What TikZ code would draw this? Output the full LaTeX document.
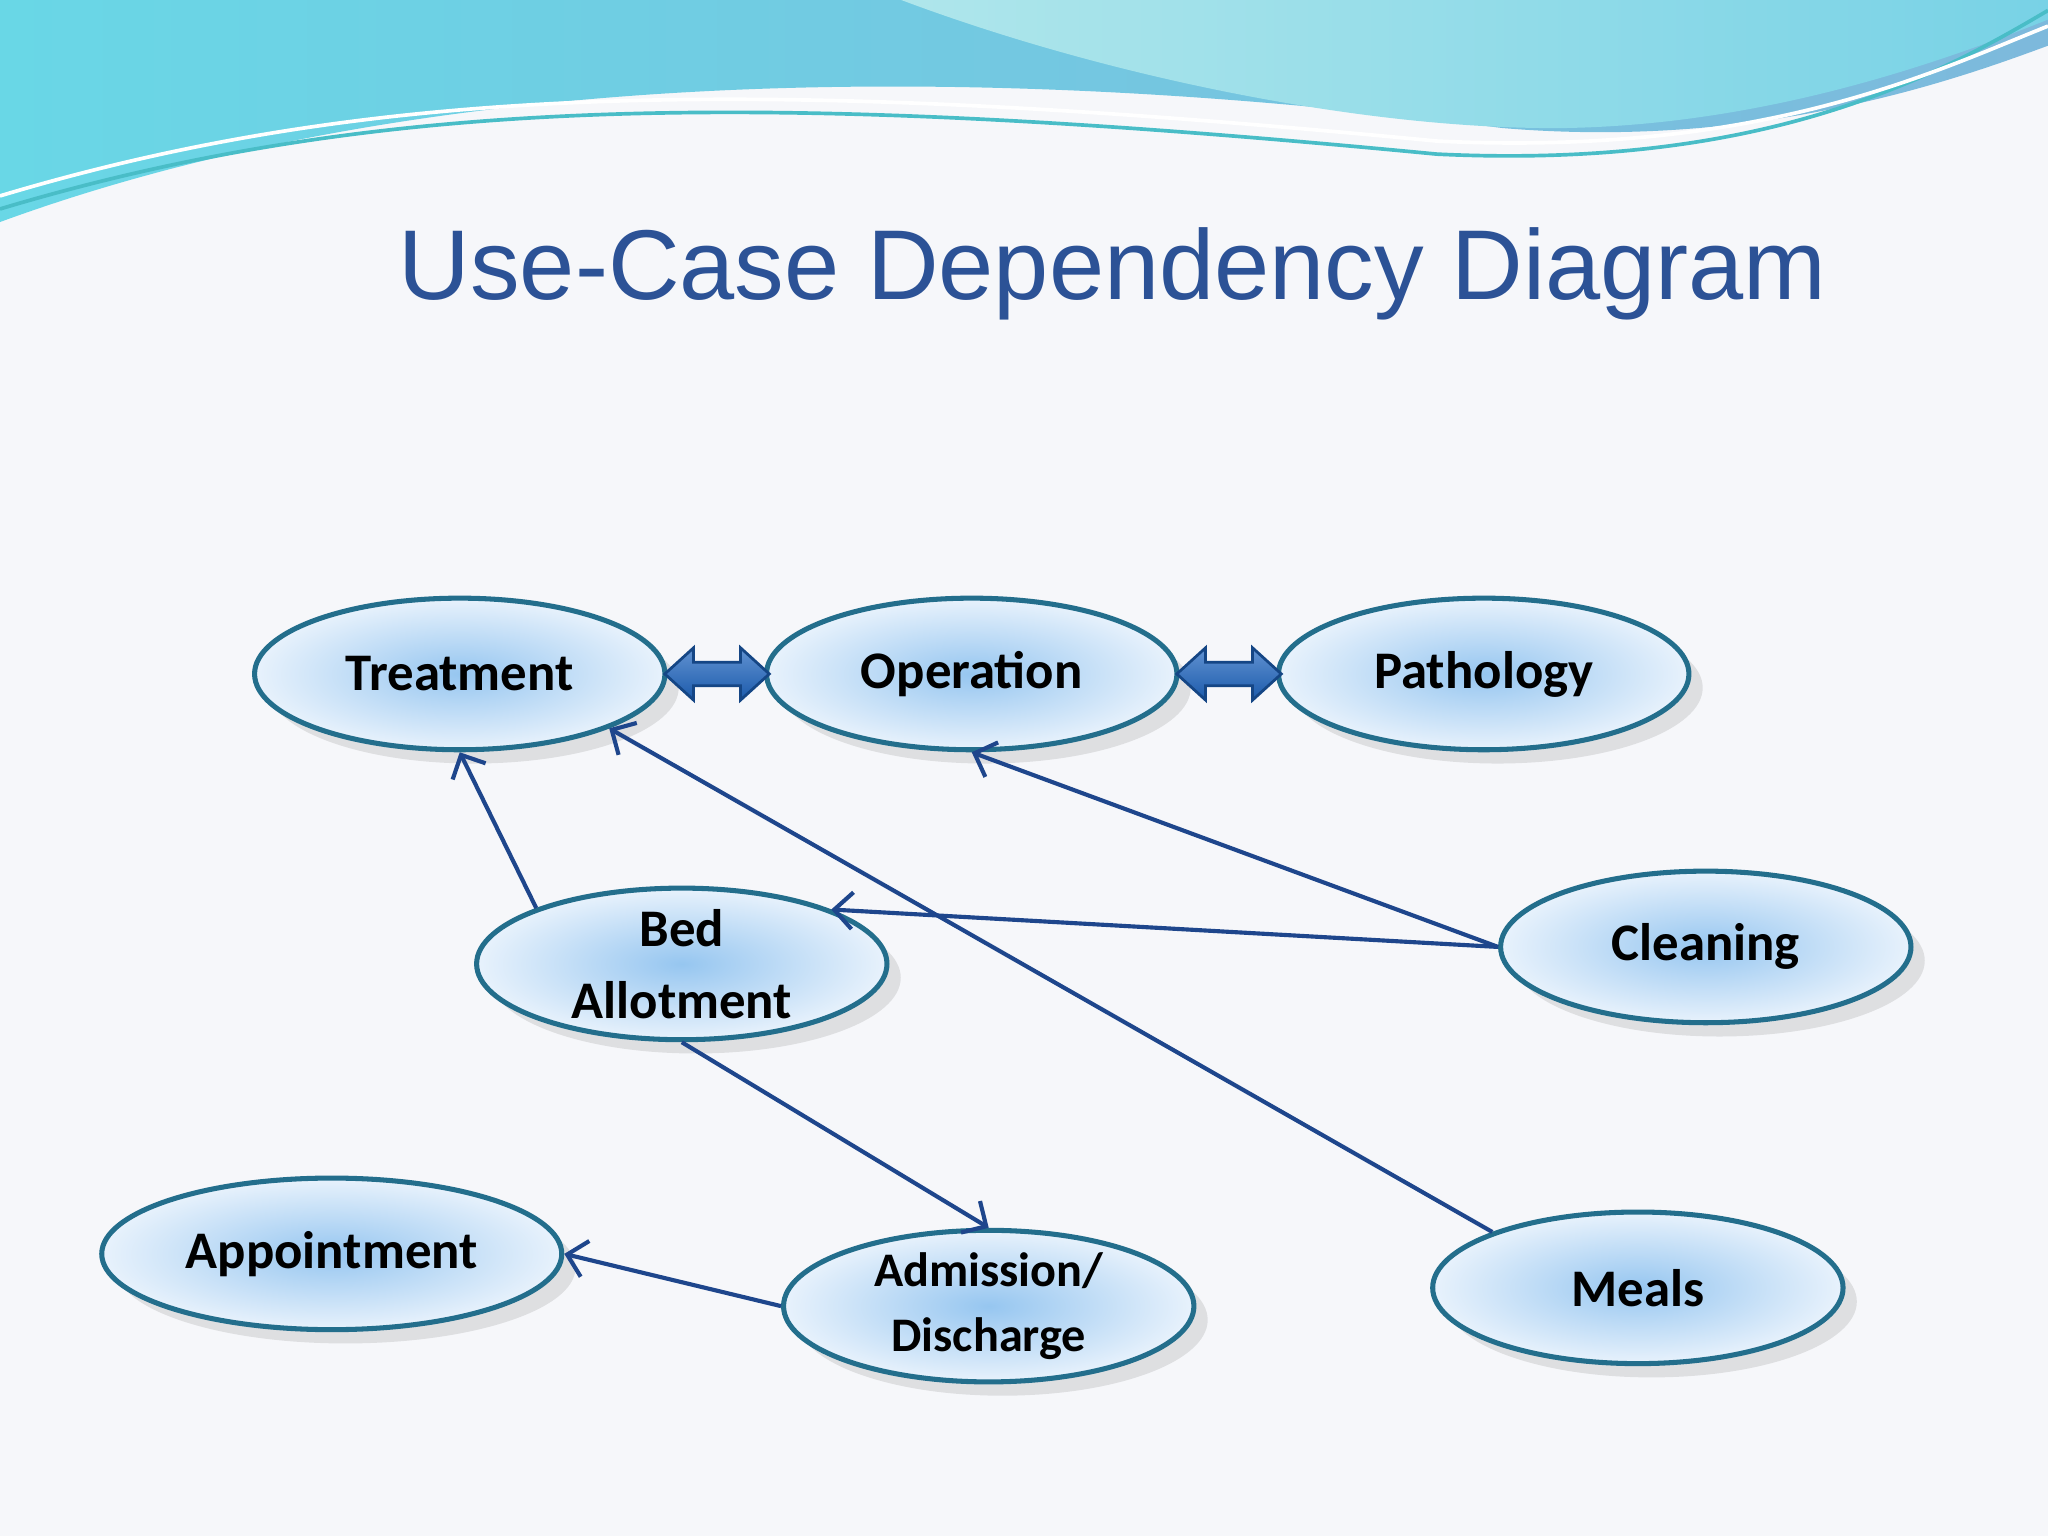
\documentclass[tikz,border=0pt]{standalone}
\usepackage{fontspec}
\setmainfont{Carlito}
\newfontfamily\titlefont{Liberation Sans}
\usetikzlibrary{shapes.geometric,shadows,arrows.meta}
\definecolor{bg}{RGB}{246,247,250}
\definecolor{titleblue}{RGB}{44,82,150}
\definecolor{edgeteal}{RGB}{35,110,140}
\definecolor{fillin}{RGB}{150,198,240}
\definecolor{fillout}{RGB}{232,242,252}
\definecolor{linkblue}{RGB}{30,70,140}
\definecolor{arrowblue}{RGB}{30,100,190}
\definecolor{waveA}{RGB}{105,215,230}
\definecolor{waveB}{RGB}{125,185,220}
\definecolor{waveC}{RGB}{175,230,235}
\definecolor{waveD}{RGB}{120,210,230}
\tikzset{
  uc/.style={ellipse, draw=edgeteal, line width=1.1pt, inner color=fillin, outer color=fillout,
    minimum width=3.14cm, minimum height=1.16cm, inner sep=0pt, align=center,
    font=\fontsize{11.5pt}{15.6pt}\selectfont\bfseries,
    drop shadow={shadow xshift=3pt, shadow yshift=-3pt, opacity=0.2}},
  two/.style={inner sep=-4pt},
  dep/.style={draw=linkblue, line width=0.9pt, -{Straight Barb[length=4pt,width=8pt]}},
  pics/dblarrow/.style={code={
    \draw[draw=arrowblue!70!black, line width=0.6pt, top color=arrowblue!70, bottom color=arrowblue!90!black]
      (-40,0) -- (-18,-20) -- (-18,-9) -- (18,-9) -- (18,-20) -- (40,0) -- (18,20) -- (18,9) -- (-18,9) -- (-18,20) -- cycle;
  }}
}
\begin{document}
\begin{tikzpicture}[x=0.01cm,y=-0.01cm]
\fill[bg] (0,0) rectangle (1568,1176);
\useasboundingbox (0,0) rectangle (1568,1176);
% top waves
\shade[left color=waveA, right color=waveB] (0,0) -- (0,170) .. controls (300,60) and (700,40) .. (1150,98) .. controls (1350,115) and (1500,60) .. (1568,35) -- (1568,0) -- cycle;
\shade[left color=waveC, right color=waveD] (690,0) .. controls (850,60) and (1050,100) .. (1200,98) .. controls (1350,95) and (1480,50) .. (1568,15) -- (1568,0) -- cycle;
\draw[waveA!70!teal, line width=0.8pt] (0,160) .. controls (300,70) and (600,70) .. (1100,118) .. controls (1350,130) and (1480,60) .. (1568,8);
\draw[white, line width=0.8pt] (0,150) .. controls (300,60) and (600,60) .. (1100,108) .. controls (1350,120) and (1480,55) .. (1568,20);
% title
\node[font=\titlefont\fontsize{21.6pt}{26pt}\selectfont, text=titleblue] (title) at (852,210) {Use-Case Dependency Diagram};
% nodes
\node[uc] (treat) at (352,516) {Treatment};
\node[uc] (oper) at (744,516) {Operation};
\node[uc] (path) at (1136,516) {Pathology};
\node[uc, two] (bed) at (522,738) {Bed\\Allotment};
\node[uc] (clean) at (1306,725) {Cleaning};
\node[uc, minimum width=3.52cm] (appt) at (254,960) {Appointment};
\node[uc, two, font=\fontsize{10.5pt}{14pt}\selectfont\bfseries] (adm) at (757,1000) {Admission/\\Discharge};
\node[uc] (meals) at (1254,986) {Meals};
% double arrows
\pic (d1) at (549,516) {dblarrow};
\pic (d2) at (941,516) {dblarrow};
% dependencies
\draw[dep] (bed.159) -- (treat.270);
\draw[dep] (meals.159) -- (treat.340);
\draw[dep] (clean.180) -- (oper.270);
\draw[dep] (clean.180) -- (bed.20);
\draw[dep] (bed.270) -- (adm.90);
\draw[dep] (adm.180) -- (appt.0);
\end{tikzpicture}
\end{document}
